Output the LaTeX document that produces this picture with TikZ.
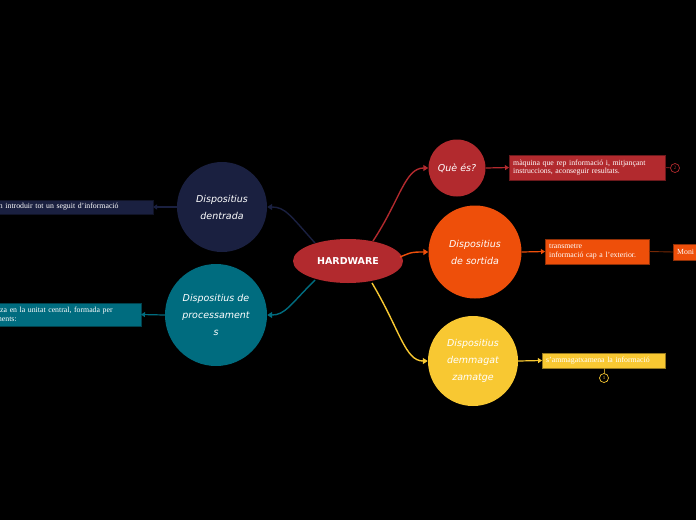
\documentclass[tikz,border=0pt]{standalone}
\usepackage{fontspec}
\setmainfont{Liberation Serif}
\newfontfamily\hand{DejaVu Sans}
\usetikzlibrary{arrows.meta,shapes.geometric}
\definecolor{cred}{HTML}{B22A2E}
\definecolor{corg}{HTML}{EE4F0A}
\definecolor{cyel}{HTML}{F8C832}
\definecolor{cnav}{HTML}{1A2040}
\definecolor{ctea}{HTML}{006C7F}
\tikzset{
 bub/.style={circle,fill=#1,text=white,font=\hand\itshape\fontsize{9.5}{17}\selectfont,align=center,inner sep=0pt},
 txt/.style={fill=#1,draw=black!40!#1,text=white,font=\fontsize{7.8}{8.6}\selectfont,align=left,inner xsep=4pt,inner ysep=2pt,anchor=west},
 con/.style={draw=#1,line width=1.4pt,-{Triangle[length=5pt,width=6pt]}},
 lnk/.style={draw=#1,line width=1.2pt,-{Triangle[length=4pt,width=5pt]}},
 num/.style={circle,draw=#1,line width=0.7pt,inner sep=0pt,minimum size=9pt,font=\fontsize{5}{5}\selectfont,text=#1},
}
\begin{document}
\begin{tikzpicture}[x=1pt,y=-1pt]
\fill[black] (0,0) rectangle (696,520);
\useasboundingbox (0,0) rectangle (696,520);
\node[ellipse,fill=cred,minimum width=110,minimum height=44,inner sep=0pt,text=white,font=\hand\bfseries\fontsize{9.5}{9.5}\selectfont] (hw) at (348,261) {HARDWARE};
\node[bub=cred,minimum size=57] (q) at (457,168) {Què és?};
\node[bub=corg,minimum size=93] (s) at (475,252) {Dispositius\\de sortida};
\node[bub=cyel,minimum size=90] (m) at (473,361) {Dispositius\\demmagat\\zamatge};
\node[bub=cnav,minimum size=90] (e) at (222,207) {Dispositius\\dentrada};
\node[bub=ctea,minimum size=102] (p) at (216,315) {Dispositius de\\processament\\s};
\path[con=cred] (373,241) .. controls (400,200) and (405,168) .. (q.west);
\path[con=corg] (400,257) .. controls (412,252) .. (s.west);
\path[con=cyel] (372,283) .. controls (400,330) and (405,361) .. (m.west);
\path[con=cnav] (315,243) .. controls (290,215) and (285,207) .. (e.east);
\path[con=ctea] (315,280) .. controls (290,305) and (285,315) .. (p.east);
\node[txt=cred,minimum height=25,text width=148] (bq) at (509,167.5) {màquina que rep informació i, mitjançant\\instruccions, aconseguir resultats.};
\node[txt=corg,minimum height=25,text width=96] (bs) at (545,251.5) {transmetre\\informació cap a l'exterior.};
\node[txt=corg,minimum height=16,text width=30] (mo) at (673,252) {Moni};
\node[txt=cyel,minimum height=15,text width=115] (bm) at (542,360.5) {s'ammagatxamena la informació};
\node[txt=cnav,minimum height=14,anchor=east,text width=165] (be) at (153,207) {meten introduir tot un seguit d'informació};
\node[txt=ctea,minimum height=23,anchor=east,text width=150] (bp) at (141,314.5) {ealitza en la unitat central, formada per\\elements:};
\path[lnk=cred] (q.east) -- (bq.west);
\path[lnk=corg] (s.east) -- (bs.west);
\path[lnk=cyel] (m.east) -- (bm.west);
\path[lnk=cnav] (e.west) -- (be.east);
\path[lnk=ctea] (p.west) -- (bp.east);
\node[num=cred] (n2) at (675,168) {2};
\node[num=cyel] (n1) at (604,378) {1};
\draw[cred!60!black,line width=0.9pt] (bq.east) -- (n2);
\draw[corg!50!black,line width=0.9pt] (bs.east) -- (mo.west);
\draw[cyel!70!black,line width=0.9pt] (bm.south -| n1) -- (n1);
\end{tikzpicture}
\end{document}
